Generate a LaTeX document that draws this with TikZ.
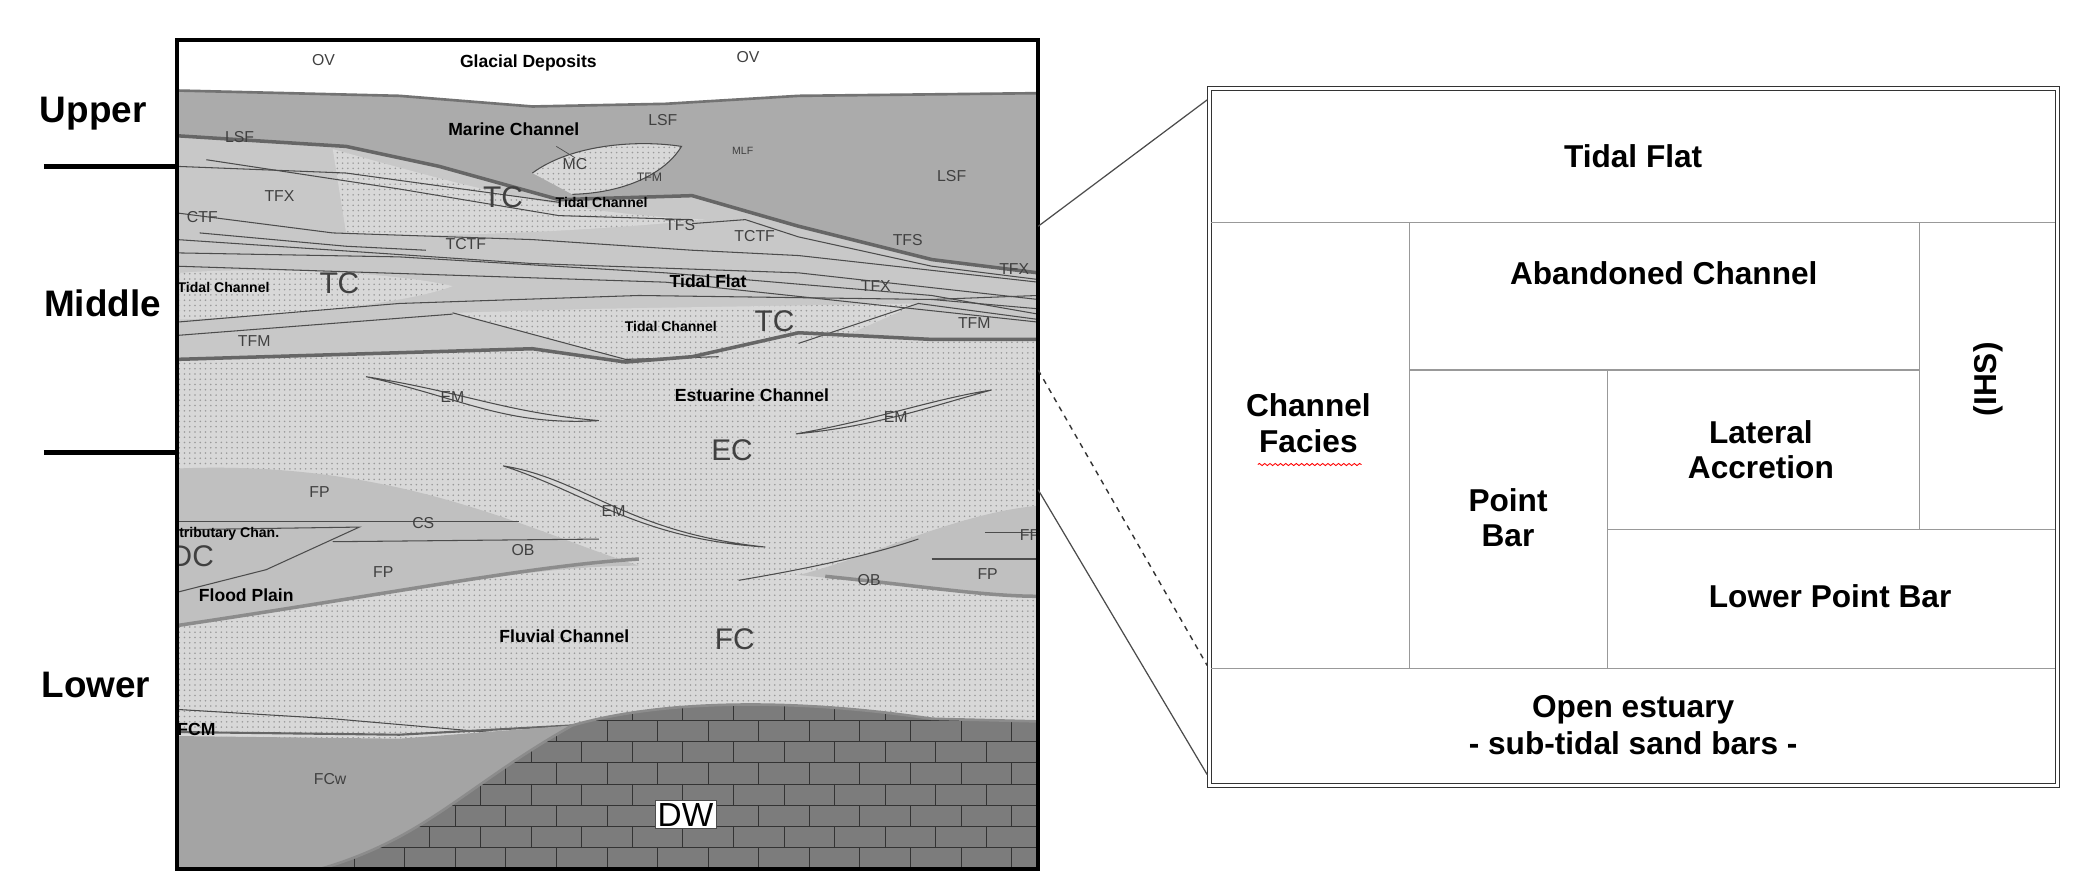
\documentclass[tikz,border=0pt]{standalone}
\usepackage{fontspec}
\setmainfont{Liberation Sans}
\usetikzlibrary{patterns,decorations.pathmorphing}
\newcommand{\fsz}[1]{\fontsize{#1}{#1}\selectfont}
\definecolor{lsf}{HTML}{ABABAB}
\definecolor{tid}{HTML}{C8C8C8}
\definecolor{est}{HTML}{D8D8D8}
\definecolor{fpc}{HTML}{C0C0C0}
\definecolor{fcw}{HTML}{A4A4A4}
\definecolor{dwc}{HTML}{7C7C7C}
\tikzset{
 sm/.style={font=\fsz{9}, text=black!75, inner sep=0pt},
 bl/.style={font=\fsz{10}\bfseries, inner sep=0pt},
 big/.style={font=\fsz{17}, text=black!75, inner sep=0pt},
 lay/.style={draw=black!70, line width=0.6pt},
 thk/.style={draw=black!60, line width=2pt},
 dotted fill/.style={pattern=dots, pattern color=black!40},
 boxtxt/.style={font=\fsz{18}\bfseries, align=center, inner sep=0pt},
 side/.style={font=\fsz{21}\bfseries, inner sep=0pt},
}
\begin{document}
\begin{tikzpicture}[x=0.02662cm,y=-0.02662cm]
\fill[white] (0,0) rectangle (1568,673);
\useasboundingbox (0,0) rectangle (1568,673);
% ---------------- left section
\begin{scope}
\clip (133,30) rectangle (780,653);
\fill[est] (133,30) rectangle (780,653);
\fill[dotted fill] (133,30) rectangle (780,653);
\fill[white] (133,30) -- (780,30) -- (780,70) -- (600,72) -- (500,78) -- (400,80) -- (300,72) -- (133,68) -- cycle;
% tidal zone
\fill[tid] (133,100) -- (780,100) -- (780,255) -- (700,255) -- (600,250) -- (520,268) -- (470,272) -- (400,262) -- (300,265) -- (133,270) -- cycle;
% LSF band
\fill[lsf] (133,68) -- (300,72) -- (400,80) -- (500,78) -- (600,72) -- (780,70) -- (780,205) -- (700,195) -- (600,170) -- (520,147) -- (420,150) -- (330,125) -- (260,110) -- (133,102) -- cycle;
\draw[draw=black!55, line width=1.5pt] (133,68) -- (300,72) -- (400,80) -- (500,78) -- (600,72) -- (780,70);
% lenses
\fill[est] (400,130) .. controls (430,108) and (480,105) .. (512,110) .. controls (500,130) and (470,145) .. (430,146) -- cycle;
\fill[dotted fill] (400,130) .. controls (430,108) and (480,105) .. (512,110) .. controls (500,130) and (470,145) .. (430,146) -- cycle;
\draw[lay] (400,130) .. controls (430,108) and (480,105) .. (512,110) .. controls (500,130) and (470,145) .. (430,146);
\fill[est] (250,112) .. controls (350,140) and (420,160) .. (530,165) .. controls (460,172) and (330,180) .. (260,175) -- cycle;
\fill[dotted fill] (250,112) .. controls (350,140) and (420,160) .. (530,165) .. controls (460,172) and (330,180) .. (260,175) -- cycle;
\fill[est] (135,205) .. controls (200,200) and (300,205) .. (340,215) .. controls (300,230) and (200,238) .. (135,240) -- cycle;
\fill[dotted fill] (135,205) .. controls (200,200) and (300,205) .. (340,215) .. controls (300,230) and (200,238) .. (135,240) -- cycle;
\fill[est] (340,235) -- (450,232) -- (690,228) -- (640,250) -- (600,258) -- (540,268) -- (470,270) -- cycle;
\fill[dotted fill] (340,235) -- (450,232) -- (690,228) -- (640,250) -- (600,258) -- (540,268) -- (470,270) -- cycle;
% tidal lines
\draw[thk] (133,102) -- (260,110) -- (330,125) -- (420,150) -- (520,147) -- (600,170) -- (700,195) -- (780,205);
\draw[lay] (133,125) -- (260,130) -- (420,152);
\draw[lay] (155,120) -- (300,142) -- (420,162) -- (520,165);
\draw[lay] (133,160) -- (250,175) -- (400,180) -- (520,188) -- (600,192) -- (780,212);
\draw[lay] (133,180) -- (400,198) -- (600,205) -- (780,225);
\draw[lay] (133,190) -- (300,193) -- (500,205) -- (700,222) -- (780,236);
\draw[lay] (133,200) -- (500,212) -- (780,242);
\draw[lay] (133,242) -- (300,228) -- (480,222) -- (700,225) -- (780,222);
\draw[lay] (133,252) -- (340,236);
\draw[lay] (520,168) -- (560,165) -- (600,178) -- (700,200) -- (780,210);
\draw[lay] (150,175) -- (260,185) -- (320,188);
\draw[lay] (340,235) -- (470,270) -- (540,268);
\draw[lay] (600,258) -- (690,228) -- (780,240);
\draw[lay] (700,225) -- (780,232);
\draw[thk] (133,270) -- (300,265) -- (400,262) -- (470,272) -- (520,268) -- (600,250) -- (700,255) -- (780,255);
% flood plain left
\fill[fpc] (133,352) .. controls (300,345) and (400,400) .. (480,425) .. controls (400,425) and (300,445) .. (133,470) -- cycle;
\draw[draw=black!45, line width=2pt] (480,420) .. controls (400,425) and (300,445) .. (133,470);
\draw[lay] (133,392) -- (390,392);
\draw[lay] (133,398) -- (270,396) -- (200,428) -- (133,445);
\draw[lay] (250,407) -- (450,405);
% flood plain right
\fill[fpc] (780,380) .. controls (720,385) and (650,420) .. (600,432) .. controls (680,440) and (740,448) .. (780,448) -- cycle;
\draw[draw=black!45, line width=2pt] (620,433) .. controls (690,440) and (740,448) .. (780,448);
\draw[lay] (700,420) -- (780,420);
\draw[lay] (740,400) -- (780,400);
\draw[lay] (555,436) .. controls (620,425) and (660,415) .. (690,405);
% EM lenses
\draw[lay, fill=est] (275,283) .. controls (350,300) and (380,320) .. (450,316) .. controls (380,310) and (350,295) .. cycle;
\draw[lay, fill=est] (745,293) .. controls (700,305) and (660,320) .. (598,326) .. controls (660,315) and (700,300) .. cycle;
\draw[lay, fill=est] (378,350) .. controls (440,360) and (470,400) .. (575,411) .. controls (480,405) and (440,370) .. cycle;
% FCM & FCw
\draw[lay] (133,533) -- (250,540) -- (400,553);
\draw[draw=black!60, line width=1.2pt] (133,550) -- (300,552) -- (430,545);
\fill[fcw] (133,553) -- (300,555) -- (430,545) .. controls (350,590) and (320,630) .. (240,653) -- (133,653) -- cycle;
% DW
\begin{scope}
\clip (430,545) .. controls (500,525) and (600,525) .. (700,540) -- (780,542) -- (780,653) -- (240,653) .. controls (320,630) and (350,590) .. (430,545) -- cycle;
\fill[dwc] (133,500) rectangle (780,653);
\foreach \i in {0,...,8} {
  \pgfmathsetmacro{\yy}{525+\i*16}
  \pgfmathsetmacro{\off}{mod(\i,2)*19}
  \draw[black!80, line width=0.5pt] (133,\yy) -- (780,\yy);
  \foreach \j in {0,...,17} {
    \draw[black!80, line width=0.5pt] (133+\off+\j*38,\yy) -- (133+\off+\j*38,\yy+16);
  }
}
\end{scope}
\draw[draw=black!45, line width=1.5pt] (430,545) .. controls (500,525) and (600,525) .. (700,540) -- (780,542);
\draw[draw=black!45, line width=1.5pt] (430,545) .. controls (350,590) and (320,630) .. (240,653);
% labels
\node[sm] (ov1) at (243,45) {OV};
\node[bl] (gd) at (397,47) {Glacial Deposits};
\node[sm] (ov2) at (562,43) {OV};
\node[bl] (mch) at (386,97) {Marine Channel};
\node[sm] (lsf1) at (498,90) {LSF};
\node[sm] (lsf2) at (180,103) {LSF};
\node[sm, font=\fsz{6}] (mlf) at (558,113) {MLF};
\node[sm] (lsf3) at (715,132) {LSF};
\node[sm] (mc) at (432,123) {MC};
\draw[black!70, line width=0.4pt] (mc.north) -- (418,110);
\node[sm, font=\fsz{7}] (tfm1) at (488,133) {TFM};
\node[sm] (tfx1) at (210,147) {TFX};
\node[big] (tc1) at (378,148) {TC};
\node[bl, font=\fsz{8}\bfseries] (tch1) at (452,152) {Tidal Channel};
\node[sm] (ctf) at (152,163) {CTF};
\node[sm] (tfs1) at (511,169) {TFS};
\node[sm] (tctf1) at (567,177) {TCTF};
\node[sm] (tfs2) at (682,180) {TFS};
\node[sm] (tctf2) at (350,183) {TCTF};
\node[sm] (tfx2) at (762,202) {TFX};
\node[bl, font=\fsz{8}\bfseries] (tch2) at (168,216) {Tidal Channel};
\node[big] (tc2) at (255,213) {TC};
\node[bl] (tflat) at (532,211) {Tidal Flat};
\node[sm] (tfx3) at (658,215) {TFX};
\node[sm] (tfm2) at (732,243) {TFM};
\node[bl, font=\fsz{8}\bfseries] (tch3) at (504,245) {Tidal Channel};
\node[big] (tc3) at (582,241) {TC};
\node[sm] (tfm3) at (191,256) {TFM};
\node[sm] (em1) at (340,298) {EM};
\node[bl] (estc) at (565,297) {Estuarine Channel};
\node[sm] (em2) at (673,313) {EM};
\node[big] (ec) at (550,338) {EC};
\node[sm] (em3) at (461,384) {EM};
\node[sm] (fp1) at (240,370) {FP};
\node[sm] (cs) at (318,393) {CS};
\node[sm] (ob1) at (393,413) {OB};
\node[bl, font=\fsz{8}\bfseries, anchor=west] (dch) at (118,401) {Distributary Chan.};
\node[big, anchor=west] (dc) at (128,418) {DC};
\node[sm] (fp2) at (288,430) {FP};
\node[bl] (fpl) at (185,447) {Flood Plain};
\node[sm, anchor=west] (fp3) at (766,402) {FP};
\node[sm] (ob2) at (653,436) {OB};
\node[sm] (fp4) at (742,431) {FP};
\node[bl] (fluv) at (424,478) {Fluvial Channel};
\node[big] (fc) at (552,480) {FC};
\node[bl, anchor=west] (fcm) at (133,548) {FCM};
\node[sm] (fcwl) at (248,585) {FCw};
\end{scope}
\node[font=\fsz{19}, fill=white, draw=black!70, inner sep=1.5pt] (dw) at (515,612) {DW};
\draw[black, line width=2pt] (133,30) rectangle (780,653);
% left side labels
\node[side] (up) at (70,85) {Upper};
\node[side] (mid) at (77,228) {Middle};
\node[side] (low) at (72,515) {Lower};
\coordinate (b1a) at (33,125); \coordinate (b1b) at (133,125);
\coordinate (b2a) at (33,340); \coordinate (b2b) at (133,340);
\draw[black, line width=3pt] (b1a) -- (b1b);
\draw[black, line width=3pt] (b2a) -- (b2b);
% ---------------- right box
\draw[black!80, line width=0.6pt] (907,65) rectangle (1547,592);
\draw[black!80, line width=0.6pt] (910,68) rectangle (1544,589);
\draw[black!40, line width=0.6pt] (910,167) -- (1544,167);
\draw[black!40, line width=0.6pt] (910,502) -- (1544,502);
\draw[black!40, line width=0.6pt] (1059,167) -- (1059,502);
\draw[black!40, line width=0.6pt] (1059,278) -- (1442,278);
\draw[black!40, line width=0.6pt] (1442,167) -- (1442,398);
\draw[black!40, line width=0.6pt] (1208,278) -- (1208,502);
\draw[black!40, line width=0.6pt] (1208,398) -- (1544,398);
\node[boxtxt] (tf) at (1227,117) {Tidal Flat};
\node[boxtxt] (ab) at (1250,205) {Abandoned Channel};
\node[boxtxt, rotate=90] (ihs) at (1494,285) {(IHS)};
\node[boxtxt] (cf) at (983,318) {Channel\\[2pt]Facies};
\draw[red, line width=0.5pt, decorate, decoration={snake, amplitude=0.6pt, segment length=3pt}] (945,349) -- (1023,349);
\node[boxtxt] (pb) at (1133,389) {Point\\[2pt]Bar};
\node[boxtxt] (la) at (1323,338) {Lateral\\[2pt]Accretion};
\node[boxtxt] (lpb) at (1375,448) {Lower Point Bar};
\node[boxtxt] (oe) at (1227,545) {Open estuary\\[3pt]- sub-tidal sand bars -};
% connectors
\coordinate (c1a) at (780,170); \coordinate (c1b) at (907,75);
\coordinate (c2a) at (780,278); \coordinate (c2b) at (907,500);
\coordinate (c3a) at (780,368); \coordinate (c3b) at (907,582);
\draw[black!70, line width=0.7pt] (c1a) -- (c1b);
\draw[black!80, line width=0.8pt, dashed] (c2a) -- (c2b);
\draw[black!70, line width=0.7pt] (c3a) -- (c3b);
\end{tikzpicture}
\end{document}
